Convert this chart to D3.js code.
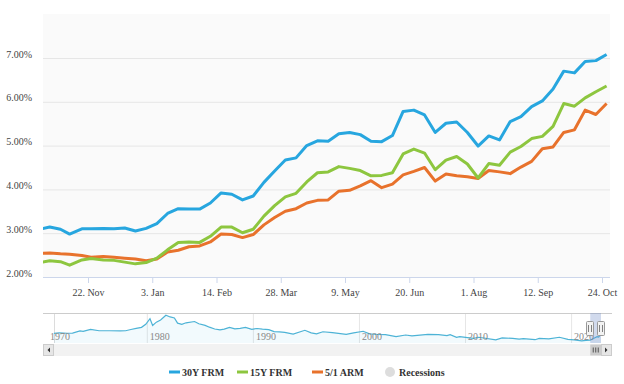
<!DOCTYPE html>
<html>
<head>
<meta charset="utf-8">
<script src="https://cdn.jsdelivr.net/npm/d3@7"></script>
<style>
body { margin: 0; background: #fff; }
svg { display: block; font-family: "Liberation Serif", "DejaVu Serif", serif; }
</style>
</head>
<body>
<svg id="chart" width="624" height="384"></svg>
<script>

// Weekly survey dates (Thursdays)
var weekDates = [
    '2021-10-21', '2021-10-28', '2021-11-04', '2021-11-10', '2021-11-18', '2021-11-24',
    '2021-12-02', '2021-12-09', '2021-12-16', '2021-12-23', '2021-12-30',
    '2022-01-06', '2022-01-13', '2022-01-20', '2022-01-27',
    '2022-02-03', '2022-02-10', '2022-02-17', '2022-02-24',
    '2022-03-03', '2022-03-10', '2022-03-17', '2022-03-24', '2022-03-31',
    '2022-04-07', '2022-04-14', '2022-04-21', '2022-04-28',
    '2022-05-05', '2022-05-12', '2022-05-19', '2022-05-26',
    '2022-06-02', '2022-06-09', '2022-06-16', '2022-06-23', '2022-06-30',
    '2022-07-07', '2022-07-14', '2022-07-21', '2022-07-28',
    '2022-08-04', '2022-08-11', '2022-08-18', '2022-08-25',
    '2022-09-01', '2022-09-08', '2022-09-15', '2022-09-22', '2022-09-29',
    '2022-10-06', '2022-10-13', '2022-10-20', '2022-10-27'
];

var rate30 = [
    3.09, 3.14, 3.09, 2.98, 3.10, 3.10, 3.11, 3.10, 3.12, 3.05, 3.11,
    3.22, 3.45, 3.56, 3.55, 3.55, 3.69, 3.92, 3.89,
    3.76, 3.85, 4.16, 4.42, 4.67, 4.72, 5.00, 5.11, 5.10,
    5.27, 5.30, 5.25, 5.10, 5.09, 5.23, 5.78, 5.81, 5.70,
    5.30, 5.51, 5.54, 5.30, 4.99, 5.22, 5.13, 5.55,
    5.66, 5.89, 6.02, 6.29, 6.70, 6.66, 6.92, 6.94, 7.08
];

var rate15 = [
    2.33, 2.37, 2.35, 2.27, 2.39, 2.42, 2.39, 2.38, 2.34, 2.30, 2.33,
    2.43, 2.62, 2.79, 2.80, 2.79, 2.93, 3.14, 3.14,
    3.01, 3.09, 3.39, 3.63, 3.83, 3.91, 4.17, 4.38, 4.40,
    4.52, 4.48, 4.43, 4.31, 4.32, 4.38, 4.81, 4.92, 4.83,
    4.45, 4.67, 4.75, 4.58, 4.26, 4.59, 4.55, 4.85,
    4.98, 5.16, 5.21, 5.44, 5.96, 5.90, 6.09, 6.23, 6.36
];

var rateArm = [
    2.54, 2.55, 2.53, 2.52, 2.49, 2.45, 2.47, 2.45, 2.43, 2.41, 2.37,
    2.41, 2.57, 2.61, 2.69, 2.71, 2.80, 2.98, 2.97,
    2.90, 2.97, 3.19, 3.36, 3.50, 3.56, 3.69, 3.75, 3.76,
    3.96, 3.98, 4.08, 4.20, 4.04, 4.12, 4.33, 4.41, 4.50,
    4.19, 4.35, 4.31, 4.29, 4.25, 4.43, 4.40, 4.36,
    4.51, 4.64, 4.93, 4.97, 5.30, 5.36, 5.81, 5.71, 5.96
];

var seriesNames = ['30Y FRM', '15Y FRM', '5/1 ARM'];
var seriesColors = ['#27a6df', '#8dc63f', '#e8722c'];

var yTicks = [2, 3, 4, 5, 6, 7];
var xTickDates = ['2021-11-22', '2022-01-03', '2022-02-14', '2022-03-28', '2022-05-09',
    '2022-06-20', '2022-08-01', '2022-09-12', '2022-10-24'];
var xTickLabels = ['22. Nov', '3. Jan', '14. Feb', '28. Mar', '9. May',
    '20. Jun', '1. Aug', '12. Sep', '24. Oct'];

// Long history of the 30Y rate for the navigator (year, rate)
var navYears = [
    1971.25, 1971.75, 1972.5, 1973.0, 1973.7, 1974.0, 1974.7, 1975.5, 1976.5, 1977.5,
    1978.0, 1978.5, 1979.0, 1979.5, 1979.9, 1980.3, 1980.55, 1980.9, 1981.3, 1981.8,
    1982.2, 1982.6, 1982.9, 1983.3, 1983.7, 1984.5, 1984.9, 1985.5, 1985.9, 1986.4,
    1986.9, 1987.3, 1987.8, 1988.3, 1988.8, 1989.3, 1989.9, 1990.4, 1990.9, 1991.5,
    1992.0, 1992.5, 1993.0, 1993.8, 1994.9, 1995.5, 1996.0, 1996.6, 1997.5, 1998.8,
    1999.5, 2000.4, 2001.0, 2001.8, 2002.5, 2003.5, 2004.4, 2005.0, 2006.5, 2007.5,
    2008.3, 2008.6, 2009.2, 2009.5, 2010.8, 2011.3, 2012.9, 2013.5, 2014.5, 2015.1,
    2015.5, 2016.6, 2017.0, 2017.9, 2018.9, 2019.7, 2020.3, 2021.0, 2021.4, 2021.8,
    2022.2, 2022.45, 2022.6, 2022.82
];
var navRates = [
    7.33, 7.66, 7.38, 7.44, 8.8, 8.5, 9.8, 8.9, 8.9, 8.8,
    8.9, 9.7, 10.4, 11.0, 12.9, 16.3, 12.2, 14.2, 15.5, 18.45,
    17.4, 16.8, 13.6, 12.9, 13.8, 14.6, 13.2, 12.2, 11.1, 10.0,
    9.4, 9.9, 11.0, 10.1, 10.4, 11.0, 9.8, 10.3, 9.9, 9.6,
    8.4, 8.2, 7.9, 6.8, 9.2, 7.6, 7.0, 8.3, 7.7, 6.7,
    7.6, 8.6, 7.0, 6.6, 6.5, 5.3, 6.3, 5.7, 6.7, 6.5,
    5.9, 6.5, 4.9, 5.3, 4.2, 4.9, 3.35, 4.5, 4.2, 3.7,
    4.0, 3.4, 4.2, 3.9, 4.9, 3.6, 3.3, 2.7, 3.0, 3.1,
    4.4, 5.3, 5.0, 7.08
];
var navDecades = [1970, 1980, 1990, 2000, 2010, 2020];

// ================================================================================================
// Layout

var svg = d3.select('#chart');
var plot = { left: 43, right: 610, top: 14, bottom: 277 };
var nav = { left: 54, right: 601, top: 313, bottom: 343 };
var font = '"Liberation Serif", "DejaVu Serif", serif';

var parse = d3.timeParse('%Y-%m-%d');

var x = d3.scaleTime()
    .domain([parse('2021-11-22'), parse('2022-10-24')])
    .range([88, 602]);

var y = d3.scaleLinear()
    .domain([2, 7])
    .range([plot.bottom, 58]);

// Plot background
svg.append('rect')
    .attr('x', plot.left)
    .attr('y', plot.top)
    .attr('width', plot.right - plot.left)
    .attr('height', plot.bottom - plot.top)
    .attr('fill', '#fafafa');

// Y axis with grid lines
var yAxis = svg.append('g')
    .attr('transform', 'translate(' + plot.left + ',0)')
    .call(d3.axisLeft(y)
        .tickValues(yTicks)
        .tickSize(-(plot.right - plot.left))
        .tickPadding(11)
        .tickFormat(function (d) { return d3.format('.2f')(d) + '%'; }));
yAxis.attr('font-family', font);
yAxis.select('.domain').remove();
yAxis.selectAll('line').attr('stroke', '#e6e6e6');
yAxis.selectAll('text')
    .attr('dy', -1)
    .attr('fill', '#444')
    .style('font-size', '10px');

// X axis
var xAxis = svg.append('g')
    .attr('transform', 'translate(0,' + plot.bottom + ')')
    .call(d3.axisBottom(x)
        .tickValues(xTickDates.map(parse))
        .tickSize(6)
        .tickPadding(6)
        .tickFormat(function (d, i) { return xTickLabels[i]; }));
xAxis.attr('font-family', font);
xAxis.select('.domain')
    .attr('d', 'M' + plot.left + ',0.5H' + plot.right)
    .attr('stroke', '#ccd6eb');
xAxis.selectAll('line').attr('stroke', '#ccd6eb');
xAxis.selectAll('text')
    .attr('fill', '#444')
    .style('font-size', '10px');

// Series lines
svg.append('clipPath')
    .attr('id', 'plot-clip')
    .append('rect')
    .attr('x', plot.left)
    .attr('y', plot.top)
    .attr('width', plot.right - plot.left)
    .attr('height', plot.bottom - plot.top);

var dates = weekDates.map(parse);
var line = d3.line()
    .x(function (d) { return x(d.date); })
    .y(function (d) { return y(d.value); });

[rateArm, rate15, rate30].forEach(function (values) {
    var i = [rate30, rate15, rateArm].indexOf(values);
    var points = values.map(function (v, k) { return { date: dates[k], value: v }; });
    svg.append('path')
        .datum(points)
        .attr('clip-path', 'url(#plot-clip)')
        .attr('fill', 'none')
        .attr('stroke', seriesColors[i])
        .attr('stroke-width', 3)
        .attr('stroke-linejoin', 'round')
        .attr('d', line);
});

// ================================================================================================
// Navigator

var nx = d3.scaleLinear()
    .domain([navYears[0], navYears[navYears.length - 1]])
    .range([nav.left, nav.right]);
var ny = d3.scaleLinear()
    .domain([2.6, 18.6])
    .range([341, 315]);

var navPoints = navYears.map(function (t, k) { return { t: t, v: navRates[k] }; });

// decade grid lines
svg.append('g').selectAll('line')
    .data(navDecades.filter(function (d) { return nx(d) >= nav.left; }))
    .enter()
    .append('line')
    .attr('x1', function (d) { return nx(d) + 0.5; })
    .attr('x2', function (d) { return nx(d) + 0.5; })
    .attr('y1', nav.top)
    .attr('y2', nav.bottom)
    .attr('stroke', '#e6e6e6');

svg.append('line')
    .attr('x1', nav.left + 0.5).attr('x2', nav.left + 0.5)
    .attr('y1', nav.top).attr('y2', nav.bottom)
    .attr('stroke', '#dcdcdc');

svg.append('path')
    .datum(navPoints)
    .attr('fill', 'rgba(39,166,223,0.06)')
    .attr('d', d3.area()
        .x(function (d) { return nx(d.t); })
        .y0(nav.bottom)
        .y1(function (d) { return ny(d.v); }));

svg.append('path')
    .datum(navPoints)
    .attr('fill', 'none')
    .attr('stroke', '#4db3d6')
    .attr('stroke-width', 1.2)
    .attr('d', d3.line()
        .x(function (d) { return nx(d.t); })
        .y(function (d) { return ny(d.v); }));

// decade labels
svg.append('g').selectAll('text')
    .data(navDecades)
    .enter()
    .append('text')
    .attr('x', function (d) { return Math.max(nx(d) + 3, 50); })
    .attr('y', 340)
    .attr('fill', '#888')
    .style('font-size', '10px')
    .text(function (d) { return d; });

// top outline
svg.append('line')
    .attr('x1', plot.left).attr('x2', 612)
    .attr('y1', nav.top + 0.5).attr('y2', nav.top + 0.5)
    .attr('stroke', '#cccccc');

// selected range mask and handles
var selFrom = nx(2021 + 294 / 365);
var selTo = nx(navYears[navYears.length - 1]);
svg.append('rect')
    .attr('x', selFrom)
    .attr('y', nav.top)
    .attr('width', selTo - selFrom)
    .attr('height', nav.bottom - nav.top)
    .attr('fill', 'rgba(102,133,194,0.3)');

[selFrom, selTo].forEach(function (hx) {
    var g = svg.append('g').attr('transform', 'translate(' + Math.round(hx) + ',' + 321 + ')');
    g.append('rect')
        .attr('x', -3.5).attr('y', 0.5)
        .attr('width', 7).attr('height', 14)
        .attr('rx', 1)
        .attr('fill', '#f2f2f2')
        .attr('stroke', '#999');
    g.append('path')
        .attr('d', 'M-1.5,4V11M1.5,4V11')
        .attr('stroke', '#333')
        .attr('stroke-width', 0.6);
});

// Scrollbar
var sb = { top: 344, height: 12 };
svg.append('rect')
    .attr('x', plot.left).attr('y', sb.top)
    .attr('width', 612 - plot.left).attr('height', sb.height)
    .attr('fill', '#f2f2f2');
svg.append('rect')
    .attr('x', selFrom).attr('y', sb.top + 0.5)
    .attr('width', selTo - selFrom).attr('height', sb.height - 1)
    .attr('fill', '#cccccc');
svg.append('path')
    .attr('d', 'M' + (selFrom + 3) + ',' + (sb.top + 3.5) + 'v5M' + (selFrom + 5.5) + ',' + (sb.top + 3.5) + 'v5M' + (selFrom + 8) + ',' + (sb.top + 3.5) + 'v5')
    .attr('stroke', '#333')
    .attr('stroke-width', 0.8);
[[plot.left, 'M4.5,6L7,3.5V8.5Z'], [nav.right, 'M6.5,6L4,3.5V8.5Z']].forEach(function (b) {
    var g = svg.append('g').attr('transform', 'translate(' + b[0] + ',' + sb.top + ')');
    g.append('rect')
        .attr('x', 0.5).attr('y', 0.5)
        .attr('width', 10).attr('height', sb.height - 1)
        .attr('fill', '#e6e6e6')
        .attr('stroke', '#cccccc');
    g.append('path').attr('d', b[1]).attr('fill', '#333');
});

// ================================================================================================
// Legend

var legendX = [169, 237, 312, 385];
var legend = svg.append('g').attr('transform', 'translate(0,372)');
seriesNames.forEach(function (name, i) {
    legend.append('line')
        .attr('x1', legendX[i]).attr('x2', legendX[i] + 11)
        .attr('y1', 0).attr('y2', 0)
        .attr('stroke', seriesColors[i])
        .attr('stroke-width', 3);
    legend.append('text')
        .attr('x', legendX[i] + 13)
        .attr('y', 3.5)
        .attr('fill', '#333')
        .style('font-size', '10px')
        .style('font-weight', 'bold')
        .text(name);
});
legend.append('circle')
    .attr('cx', legendX[3] + 5).attr('cy', 0).attr('r', 5)
    .attr('fill', '#dddddd');
legend.append('text')
    .attr('x', legendX[3] + 14)
    .attr('y', 3.5)
    .attr('fill', '#333')
    .style('font-size', '10px')
    .style('font-weight', 'bold')
    .text('Recessions');

</script>
</body>
</html>
